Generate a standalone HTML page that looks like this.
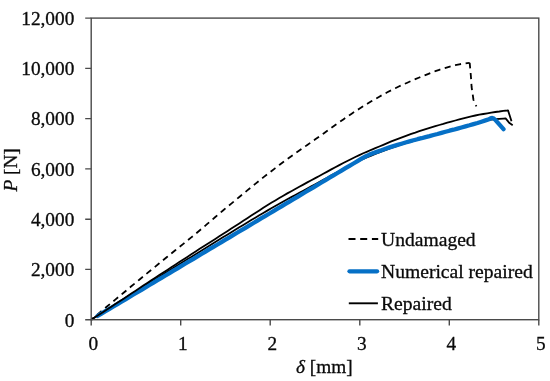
<!DOCTYPE html>
<html><head><meta charset="utf-8"><title>Chart</title>
<style>
html,body{margin:0;padding:0;background:#fff;}
body{width:550px;height:381px;overflow:hidden;}
svg{display:block;}
text{font-family:"Liberation Serif","DejaVu Serif",serif;font-size:19.3px;fill:#0a0a0a;stroke:#0a0a0a;stroke-width:0.3px;}
.lg{font-size:19.6px;}
</style></head><body>
<svg width="550" height="381" viewBox="0 0 550 381">
<rect width="550" height="381" fill="#fff"/>
<!-- curves -->
<g fill="none" stroke-linejoin="round" stroke-linecap="butt">
<path d="M469.7,62.9 L467.3,63.1 L463.3,63.6 L459.3,64.3 L455.3,65.2 L451.3,66.2 L447.3,67.3 L443.3,68.5 L439.3,69.8 L435.3,71.2 L431.3,72.7 L427.3,74.3 L423.3,75.9 L419.3,77.5 L415.3,79.2 L411.3,80.9 L407.3,82.7 L403.3,84.5 L399.3,86.3 L395.3,88.3 L391.3,90.2 L387.3,92.3 L383.3,94.4 L379.3,96.7 L375.3,99.0 L371.3,101.3 L367.3,103.8 L363.3,106.2 L359.3,108.8 L355.3,111.3 L351.3,113.9 L347.3,116.6 L343.3,119.4 L339.3,122.2 L335.3,125.0 L331.3,127.9 L327.3,130.8 L323.3,133.7 L319.3,136.5 L315.3,139.3 L311.3,142.1 L307.3,144.9 L303.3,147.7 L299.3,150.5 L295.3,153.3 L291.3,156.2 L287.3,159.1 L283.3,162.0 L279.3,165.0 L275.3,168.1 L271.3,171.2 L267.3,174.3 L263.3,177.4 L259.3,180.6 L255.3,183.9 L251.3,187.1 L247.3,190.4 L243.3,193.7 L239.3,197.0 L235.3,200.3 L231.3,203.6 L227.3,206.9 L223.3,210.2 L219.3,213.6 L215.3,217.0 L211.3,220.5 L207.3,223.9 L203.3,227.4 L199.3,230.7 L195.3,234.1 L191.3,237.4 L187.3,240.6 L183.3,243.9 L179.3,247.1 L175.3,250.3 L171.3,253.5 L167.3,256.8 L163.3,260.0 L159.3,263.3 L155.3,266.6 L151.3,269.8 L147.3,273.1 L143.3,276.4 L139.3,279.7 L135.3,283.0 L131.3,286.3 L127.3,289.7 L123.3,293.0 L119.3,296.3 L115.3,299.6 L111.3,303.0 L107.3,306.3 L103.3,309.6 L99.3,313.0 L95.3,316.3 L91.3,319.7" stroke="#000" stroke-width="1.8" stroke-dasharray="6.1 4.62" stroke-dashoffset="2"/>
<path d="M476.4,106.4 L473.5,100.0 L471.6,87.0 L470.8,75.0 L469.7,62.9" stroke="#000" stroke-width="1.8" stroke-dasharray="6.2 4.7" stroke-dashoffset="4.7"/>
<path d="M91.3,319.7 L95.3,317.1 L99.3,314.6 L103.3,312.0 L107.3,309.5 L111.3,306.9 L115.3,304.4 L119.3,301.8 L123.3,299.3 L127.3,296.8 L131.3,294.2 L135.3,291.7 L139.3,289.2 L143.3,286.7 L147.3,284.2 L151.3,281.7 L155.3,279.2 L159.3,276.7 L163.3,274.2 L167.3,271.7 L171.3,269.2 L175.3,266.7 L179.3,264.3 L183.3,261.8 L187.3,259.3 L191.3,256.9 L195.3,254.4 L199.3,251.9 L203.3,249.5 L207.3,247.0 L211.3,244.5 L215.3,242.1 L219.3,239.6 L223.3,237.1 L227.3,234.7 L231.3,232.2 L235.3,229.8 L239.3,227.3 L243.3,224.9 L247.3,222.5 L251.3,220.1 L255.3,217.7 L259.3,215.3 L263.3,212.9 L267.3,210.6 L271.3,208.3 L275.3,206.0 L279.3,203.7 L283.3,201.5 L287.3,199.3 L291.3,197.1 L295.3,195.0 L299.3,192.9 L303.3,190.7 L307.3,188.6 L311.3,186.4 L315.3,184.2 L319.3,182.1 L323.3,179.9 L327.3,177.7 L331.3,175.4 L335.3,173.2 L339.3,171.0 L343.3,168.9 L347.3,166.8 L351.3,164.7 L355.3,162.7 L359.3,160.7 L363.3,158.9 L367.3,157.2 L371.3,155.6 L375.3,154.0 L379.3,152.5 L383.3,150.9 L387.3,149.4 L391.3,148.0 L395.3,146.6 L399.3,145.2 L403.3,144.0 L407.3,142.7 L411.3,141.6 L415.3,140.4 L419.3,139.3 L423.3,138.2 L427.3,137.1 L431.3,136.0 L435.3,134.9 L439.3,133.8 L443.3,132.7 L447.3,131.6 L451.3,130.5 L455.3,129.4 L459.3,128.3 L463.3,127.2 L467.3,126.1 L471.3,125.0 L475.3,123.9 L479.3,122.8 L483.3,121.6 L487.3,120.4 L491.3,119.6 L495.3,119.2 L499.3,118.9 L503.3,118.6 L505.6,118.4 L509.5,123.1 L512.7,125.3" stroke="#000" stroke-width="1.8"/>
<path d="M97.5,316.0 L101.5,313.6 L105.5,311.2 L109.5,308.8 L113.5,306.5 L117.5,304.1 L121.5,301.7 L125.5,299.3 L129.5,296.9 L133.5,294.5 L137.5,292.2 L141.5,289.8 L145.5,287.4 L149.5,285.0 L153.5,282.6 L157.5,280.2 L161.5,277.8 L165.5,275.5 L169.5,273.1 L173.5,270.7 L177.5,268.3 L181.5,265.9 L185.5,263.5 L189.5,261.2 L193.5,258.8 L197.5,256.4 L201.5,254.0 L205.5,251.6 L209.5,249.2 L213.5,246.9 L217.5,244.5 L221.5,242.1 L225.5,239.7 L229.5,237.3 L233.5,234.9 L237.5,232.5 L241.5,230.2 L245.5,227.8 L249.5,225.4 L253.5,223.0 L257.5,220.6 L261.5,218.2 L265.5,215.9 L269.5,213.5 L273.5,211.1 L277.5,208.7 L281.5,206.3 L285.5,203.9 L289.5,201.6 L293.5,199.2 L297.5,196.8 L301.5,194.4 L305.5,192.0 L309.5,189.6 L313.5,187.3 L317.5,184.9 L321.5,182.5 L325.5,180.1 L329.5,177.7 L333.5,175.4 L337.5,173.0 L341.5,170.6 L345.5,168.2 L349.5,165.8 L353.5,163.5 L357.5,161.1 L361.5,158.7 L365.5,156.5 L369.5,154.6 L373.5,153.0 L377.5,151.6 L381.5,150.2 L385.5,148.8 L389.5,147.4 L393.5,146.1 L397.5,144.9 L401.5,143.7 L405.5,142.5 L409.5,141.4 L413.5,140.3 L417.5,139.2 L421.5,138.2 L425.5,137.1 L429.5,136.1 L433.5,135.0 L437.5,134.0 L441.5,132.9 L445.5,131.8 L449.5,130.7 L453.5,129.7 L457.5,128.6 L461.5,127.5 L465.5,126.4 L469.5,125.3 L473.5,124.1 L477.5,123.0 L481.5,121.7 L485.5,120.4 L489.0,119.2 Q492.5,116.6 495.3,119.8 L503.5,129.1" stroke="#0670c6" stroke-width="4.3" stroke-linecap="round"/>
<path d="M91.3,319.7 L95.3,317.1 L99.3,314.5 L103.3,311.9 L107.3,309.3 L111.3,306.7 L115.3,304.1 L119.3,301.5 L123.3,298.9 L127.3,296.2 L131.3,293.6 L135.3,290.9 L139.3,288.3 L143.3,285.6 L147.3,283.0 L151.3,280.3 L155.3,277.7 L159.3,275.1 L163.3,272.5 L167.3,269.9 L171.3,267.3 L175.3,264.7 L179.3,262.1 L183.3,259.6 L187.3,257.0 L191.3,254.3 L195.3,251.7 L199.3,249.1 L203.3,246.5 L207.3,243.9 L211.3,241.4 L215.3,238.9 L219.3,236.3 L223.3,233.8 L227.3,231.2 L231.3,228.6 L235.3,226.0 L239.3,223.4 L243.3,220.8 L247.3,218.2 L251.3,215.6 L255.3,213.0 L259.3,210.4 L263.3,207.8 L267.3,205.3 L271.3,202.8 L275.3,200.4 L279.3,198.0 L283.3,195.7 L287.3,193.4 L291.3,191.2 L295.3,189.0 L299.3,186.8 L303.3,184.6 L307.3,182.4 L311.3,180.3 L315.3,178.1 L319.3,176.0 L323.3,173.8 L327.3,171.6 L331.3,169.4 L335.3,167.2 L339.3,165.1 L343.3,163.0 L347.3,161.0 L351.3,159.0 L355.3,157.0 L359.3,155.1 L363.3,153.3 L367.3,151.6 L371.3,149.8 L375.3,148.2 L379.3,146.5 L383.3,144.8 L387.3,143.1 L391.3,141.4 L395.3,139.8 L399.3,138.3 L403.3,136.8 L407.3,135.3 L411.3,133.9 L415.3,132.6 L419.3,131.2 L423.3,129.9 L427.3,128.6 L431.3,127.4 L435.3,126.2 L439.3,125.0 L443.3,123.9 L447.3,122.7 L451.3,121.6 L455.3,120.5 L459.3,119.4 L463.3,118.3 L467.3,117.3 L471.3,116.4 L475.3,115.5 L479.3,114.7 L483.3,114.0 L487.3,113.3 L491.3,112.6 L495.3,112.0 L499.3,111.5 L503.3,110.9 L507.3,110.5 L508.0,110.4 L510.0,116.5 L511.5,121.2" stroke="#000" stroke-width="1.8"/>
</g>
<!-- axes -->
<g stroke="#4a4a4a" stroke-width="1.4" fill="none">
<rect x="91.2" y="18.1" width="447.6" height="301.6"/>
<path d="M85.2,18.1H91.2M85.2,68.4H91.2M85.2,118.6H91.2M85.2,168.9H91.2M85.2,219.2H91.2M85.2,269.4H91.2M85.2,319.7H91.2"/>
<path d="M91.2,319.7V325.4M180.7,319.7V325.4M270.2,319.7V325.4M359.8,319.7V325.4M449.3,319.7V325.4M538.8,319.7V325.4"/>
</g>
<!-- y labels -->
<g text-anchor="end">
<text x="74.3" y="24.7">12,000</text>
<text x="74.3" y="75">10,000</text>
<text x="74.3" y="125.3">8,000</text>
<text x="74.3" y="175.6">6,000</text>
<text x="74.3" y="225.9">4,000</text>
<text x="74.3" y="276.2">2,000</text>
<text x="74.3" y="326.5">0</text>
</g>
<g text-anchor="middle">
<text x="93.2" y="350">0</text>
<text x="182.7" y="350">1</text>
<text x="272.2" y="350">2</text>
<text x="361.7" y="350">3</text>
<text x="451.2" y="350">4</text>
<text x="540.7" y="350">5</text>
</g>
<text x="296" y="372.8"><tspan font-style="italic">δ</tspan> [mm]</text>
<text transform="translate(16.7,191.6) rotate(-90)"><tspan font-style="italic">P</tspan> [N]</text>
<!-- legend -->
<g fill="none">
<path d="M348.5,239.1H378.2" stroke="#000" stroke-width="2" stroke-dasharray="7 4.7"/>
<path d="M349.5,271.3H377.1" stroke="#0670c6" stroke-width="4.3" stroke-linecap="round"/>
<path d="M348.8,303.3H377.9" stroke="#000" stroke-width="1.9"/>
</g>
<text x="381" y="245.5" class="lg">Undamaged</text>
<text x="381" y="277.5" class="lg">Numerical repaired</text>
<text x="381" y="309.5" class="lg">Repaired</text>
</svg>
</body></html>
